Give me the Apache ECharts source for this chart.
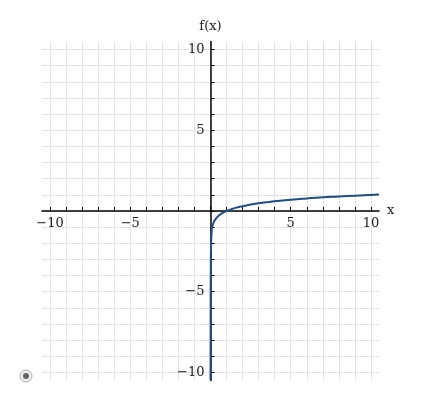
<!DOCTYPE html>
<html><head><meta charset="utf-8">
<script src="https://cdn.jsdelivr.net/npm/echarts@6/dist/echarts.min.js"></script>
<style>html,body{margin:0;background:#fff}#c{width:428px;height:406px}</style>
</head><body><div id="c"></div>
<script>
var gridValues = [-10,-9,-8,-7,-6,-5,-4,-3,-2,-1,0,1,2,3,4,5,6,7,8,9,10];
var labelValues = [-10, -5, 5, 10];
var curveX = [0.003, 0.01, 0.02, 0.04, 0.07, 0.1, 0.2, 0.3, 0.5, 0.7, 1, 1.5, 2, 3, 4, 5, 6, 7, 8, 9, 10.5];
var curveY = [-10.5, -6.0, -3.2, -1.9, -1.3, -1.0, -0.70, -0.52, -0.30, -0.15, 0, 0.18, 0.30, 0.48, 0.60, 0.70, 0.78, 0.85, 0.90, 0.95, 1.02];

var chart = echarts.init(document.getElementById('c'));
var font = 'DejaVu Serif';
function fmt(v) { return v < 0 ? '\u2212' + (-v) : String(v); }
function axis(name, offset) {
    return {
        type: 'value', min: -10.5, max: 10.5, name: name, offset: offset,
        nameTextStyle: { color: '#222', fontFamily: font, fontSize: 13 },
        axisLine: { onZero: false, lineStyle: { color: '#000', width: 1.5 } },
        axisTick: { show: true, customValues: gridValues, length: 4, inside: true, lineStyle: { color: '#000' } },
        axisLabel: { customValues: labelValues, formatter: fmt, color: '#222', fontFamily: font, fontSize: 13, margin: 6 },
        splitLine: { show: true, lineStyle: { color: '#e2e2e2' } }
    };
}
var xa = axis('x', -169.5);
xa.nameGap = 8;
var ya = axis('f(x)', -168.5);
ya.nameGap = 8;

chart.setOption({
    animation: false,
    grid: { left: 42, top: 41.5, width: 337, height: 339 },
    xAxis: xa,
    yAxis: ya,
    graphic: [
        { type: 'circle', shape: { cx: 26, cy: 376, r: 6 }, style: { fill: '#eee', stroke: '#aaa', lineWidth: 1 } },
        { type: 'circle', shape: { cx: 26, cy: 376, r: 3 }, style: { fill: '#666' } }
    ],
    series: [{
        type: 'line', smooth: true, symbol: 'none', clip: true,
        lineStyle: { color: '#1f4e85', width: 2 },
        data: curveX.map(function (x, i) { return [x, curveY[i]]; })
    }]
});
</script></body></html>
